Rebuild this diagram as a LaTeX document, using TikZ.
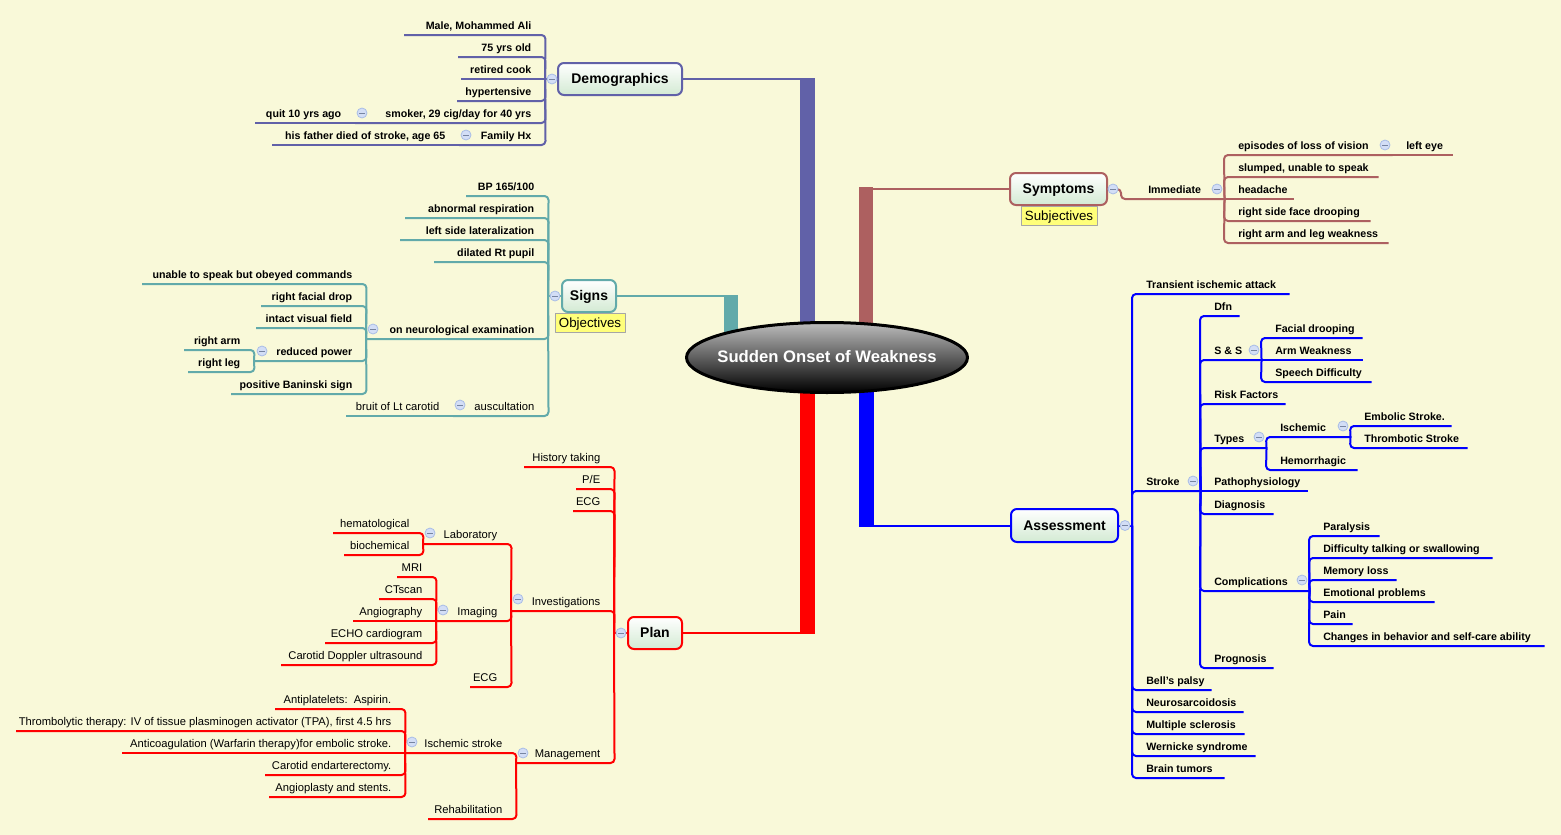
\documentclass[tikz,border=0pt]{standalone}
\usepackage{fontspec}
\setmainfont{Liberation Sans}
\usetikzlibrary{shapes.geometric}
\definecolor{bgc}{HTML}{F9F9D9}
\definecolor{demc}{HTML}{6161A8}
\definecolor{sigc}{HTML}{62AAAA}
\definecolor{symc}{HTML}{AD6060}
\definecolor{planc}{HTML}{FF0000}
\definecolor{assc}{HTML}{0000FF}
\definecolor{icf}{HTML}{D3DEF6}
\definecolor{icb}{HTML}{A9BDE6}
\definecolor{boxb}{HTML}{D3EAD3}
\definecolor{noteb}{HTML}{FFFF7A}
\definecolor{topg}{HTML}{BDBDBD}
\newcommand\MMnode[7]{%
  \pgfmathsetmacro\MMw{(#4-#3)*0.75}%
  \pgfmathsetmacro\MMt{(#4-#3-28)*0.75}%
  \node[#1, anchor=south west, minimum width=\MMw pt] (#2) at (#3,#5) {\makebox[\MMt pt][#6]{#7}};}
\newcommand\MMl[3]{\draw[ln,#1] (#2.south west) -- (#2.south east) -- (#3);}
\newcommand\MMr[3]{\draw[ln,#1] (#2.south east) -- (#2.south west) -- (#3);}
\newcommand\MMs[2]{\draw[ln,#1] (#2.south west) -- (#2.south east);}
\newcommand\MMk[3]{\node[mk] (#1) at (#2,#3) {};}
\begin{document}
\begin{tikzpicture}[x=0.75pt,y=-0.75pt, line join=round,
  ln/.style={line width=1.5pt, rounded corners=3pt},
  lf/.style={inner xsep=10.5pt, inner ysep=0pt, minimum height=15pt, text height=8.5pt, text depth=1.7pt, font=\fontsize{8}{9}\selectfont\bfseries},
  lfr/.style={lf, font=\fontsize{8.4}{9}\selectfont},
  topic/.style={draw, line width=1.5pt, rounded corners=4.5pt, top color=white, bottom color=boxb, font=\fontsize{10.5}{12}\selectfont\bfseries, inner sep=0pt, text height=9pt, text depth=2pt},
  note/.style={draw=gray!70, line width=0.6pt, fill=noteb, font=\fontsize{10}{12}\selectfont, inner sep=0pt, text height=9.4pt, text depth=2pt},
  mk/.style={circle, draw=icb, fill=icf, line width=0.6pt, minimum size=7.5pt, inner sep=0pt,
    path picture={\draw[icb!70!black, line width=0.6pt] ([xshift=-2.2pt]path picture bounding box.center) -- ([xshift=2.2pt]path picture bounding box.center);}},
  trunk/.style={line cap=butt, line width=11.25pt}]
\fill[bgc] (0,0) rectangle (1561,835);
\useasboundingbox (0,0) rectangle (1561,835);
% trunks
\coordinate (CC) at (827,357.5);
\coordinate (DB) at (807.5,78);
\coordinate (SB) at (866,187);
\coordinate (GB) at (731,295);
\coordinate (PB) at (807.5,634);
\coordinate (AB) at (866.5,527);
\draw[trunk, demc] (DB) -- (DB |- CC);
\draw[trunk, symc, line width=10.5pt] (SB) -- (SB |- CC);
\draw[trunk, sigc, line width=10.5pt] (GB) -- (GB |- CC);
\draw[trunk, planc] (PB |- CC) -- (PB);
\draw[trunk, assc] (AB |- CC) -- (AB);
% central topic
\node[ellipse, draw=black, line width=2.25pt, top color=topg, bottom color=black, minimum width=210.75pt, minimum height=52.5pt, inner sep=0pt, text=white, text height=9.8pt, text depth=2pt, font=\fontsize{12.5}{15}\selectfont\bfseries] (C) at (CC) {\makebox[0pt]{Sudden Onset of Weakness}};
% main topics
\node[topic, draw=demc, minimum width=93pt, minimum height=24pt] (Demo) at (620,79) {Demographics};
\node[topic, draw=sigc, minimum width=40.5pt, minimum height=24pt] (Signs) at (589,296) {Signs};
\node[note, minimum width=52.5pt, minimum height=14.25pt] (Obj) at (590,322.5) {Objectives};
\node[topic, draw=symc, minimum width=72.75pt, minimum height=24pt] (Symp) at (1058.5,189) {Symptoms};
\node[note, minimum width=57pt, minimum height=14.25pt] (Subj) at (1059,215.5) {Subjectives};
\node[topic, draw=assc, minimum width=80.25pt, minimum height=24.75pt] (Ass) at (1064.5,525.5) {Assessment};
\node[topic, draw=planc, minimum width=40.5pt, minimum height=24pt] (Plan) at (655,633) {Plan};
\draw[ln, demc] (Demo.east) -- (Demo.east -| DB);
\draw[ln, symc] (Symp.west) -- (Symp.west -| SB);
\draw[ln, sigc] (Signs.east) -- (Signs.east -| GB);
\draw[ln, planc] (Plan.east) -- (Plan.east -| PB);
\draw[ln, assc] (Ass.west) -- (Ass.west -| AB);
% ---------------- Demographics
\coordinate (DJ) at (545,79);
\MMnode{lf}{d1}{404}{545}{35}{r}{Male, Mohammed Ali}
\MMnode{lf}{d2}{458}{545}{57}{r}{75 yrs old}
\MMnode{lf}{d3}{461}{545}{79}{r}{retired cook}
\MMnode{lf}{d4}{457}{545}{101}{r}{hypertensive}
\MMnode{lf}{d5}{355}{545}{123}{r}{smoker, 29 cig/day for 40 yrs}
\MMnode{lf}{d5a}{255}{355}{123}{r}{quit 10 yrs ago}
\MMnode{lf}{d6}{459}{545}{145}{r}{Family Hx}
\MMnode{lf}{d6a}{272}{459}{145}{r}{his father died of stroke, age 65}
\draw[ln, demc] (Demo.west) -- (DJ);
\MMl{demc}{d1}{DJ}
\MMl{demc}{d2}{DJ}
\MMs{demc}{d3}
\MMl{demc}{d4}{DJ}
\MMl{demc}{d5}{DJ}
\MMl{demc}{d6}{DJ}
\MMs{demc}{d5a}
\MMs{demc}{d6a}
\MMk{kd}{552}{79}
\MMk{kd5}{362}{113}
\MMk{kd6}{466}{135}
% ---------------- Signs
\coordinate (GJ) at (548,296);
\MMnode{lf}{s1}{466}{548}{196}{r}{BP 165/100}
\MMnode{lf}{s2}{405}{548}{218}{r}{abnormal respiration}
\MMnode{lf}{s3}{400}{548}{240}{r}{left side lateralization}
\MMnode{lf}{s4}{434}{548}{262}{r}{dilated Rt pupil}
\MMnode{lf}{s5}{366}{548}{339}{r}{on neurological examination}
\MMnode{lf}{s5a}{142}{366}{284}{r}{unable to speak but obeyed commands}
\MMnode{lf}{s5b}{261}{366}{306}{r}{right facial drop}
\MMnode{lf}{s5c}{256}{366}{328}{r}{intact visual field}
\MMnode{lf}{s5d}{254}{366}{361}{r}{reduced power}
\MMnode{lf}{s5d1}{184}{254}{350}{r}{right arm}
\MMnode{lf}{s5d2}{188}{254}{372}{r}{right leg}
\MMnode{lf}{s5e}{231}{366}{394}{r}{positive Baninski sign}
\MMnode{lfr}{s6}{453}{548}{416}{r}{auscultation}
\MMnode{lfr}{s6a}{346}{453}{416}{r}{bruit of Lt carotid}
\draw[ln, sigc] (Signs.west) -- (GJ);
\MMl{sigc}{s1}{GJ}
\MMl{sigc}{s2}{GJ}
\MMl{sigc}{s3}{GJ}
\MMl{sigc}{s4}{GJ}
\MMl{sigc}{s5}{GJ}
\MMl{sigc}{s6}{GJ}
\MMl{sigc}{s5a}{s5.south west}
\MMl{sigc}{s5b}{s5.south west}
\MMl{sigc}{s5c}{s5.south west}
\MMl{sigc}{s5d}{s5.south west}
\MMl{sigc}{s5e}{s5.south west}
\MMl{sigc}{s5d1}{s5d.south west}
\MMl{sigc}{s5d2}{s5d.south west}
\MMs{sigc}{s6a}
\MMk{kg}{555}{296}
\MMk{kg5}{373}{329}
\MMk{kg5d}{262}{351}
\MMk{kg6}{460}{405}
% ---------------- Symptoms
\coordinate (SJ) at (1121,189);
\MMnode{lf}{y1}{1134}{1224}{199}{l}{Immediate}
\MMnode{lf}{y1a}{1224}{1392}{155}{l}{episodes of loss of vision}
\MMnode{lf}{y1a1}{1392}{1452}{155}{l}{left eye}
\MMnode{lf}{y1b}{1224}{1378}{177}{l}{slumped, unable to speak}
\MMnode{lf}{y1c}{1224}{1293}{199}{l}{headache}
\MMnode{lf}{y1d}{1224}{1370}{221}{l}{right side face drooping}
\MMnode{lf}{y1e}{1224}{1388}{243}{l}{right arm and leg weakness}
\draw[ln, symc] (Symp.east) -- (SJ) |- (y1.south west) -- (y1.south east);
\MMr{symc}{y1a}{y1.south east}
\MMr{symc}{y1b}{y1.south east}
\MMs{symc}{y1c}
\MMr{symc}{y1d}{y1.south east}
\MMr{symc}{y1e}{y1.south east}
\MMs{symc}{y1a1}
\MMk{ks}{1113}{189}
\MMk{ks1}{1217}{189}
\MMk{ks1a}{1385}{145}
% ---------------- Assessment
\coordinate (AJ) at (1132,525.5);
\MMnode{lf}{a1}{1132}{1289}{294}{l}{Transient ischemic attack}
\MMnode{lf}{a2}{1132}{1200}{491}{l}{Stroke}
\MMnode{lf}{b1}{1200}{1239}{316}{l}{Dfn}
\MMnode{lf}{b2}{1200}{1261}{360}{l}{S \& S}
\MMnode{lf}{c1}{1261}{1362}{338}{l}{Facial drooping}
\MMnode{lf}{c2}{1261}{1362}{360}{l}{Arm Weakness}
\MMnode{lf}{c3}{1261}{1371}{382}{l}{Speech Difficulty}
\MMnode{lf}{b3}{1200}{1285}{404}{l}{Risk Factors}
\MMnode{lf}{b4}{1200}{1266}{448}{l}{Types}
\MMnode{lf}{c4}{1266}{1350}{437}{l}{Ischemic}
\MMnode{lf}{e1}{1350}{1451}{426}{l}{Embolic Stroke.}
\MMnode{lf}{e2}{1350}{1467}{448}{l}{Thrombotic Stroke}
\MMnode{lf}{c5}{1266}{1357}{470}{l}{Hemorrhagic}
\MMnode{lf}{b5}{1200}{1307}{491}{l}{Pathophysiology}
\MMnode{lf}{b6}{1200}{1273}{514}{l}{Diagnosis}
\MMnode{lf}{b7}{1200}{1309}{591}{l}{Complications}
\MMnode{lf}{f1}{1309}{1379}{536}{l}{Paralysis}
\MMnode{lf}{f2}{1309}{1492}{558}{l}{Difficulty talking or swallowing}
\MMnode{lf}{f3}{1309}{1396}{580}{l}{Memory loss}
\MMnode{lf}{f4}{1309}{1434}{602}{l}{Emotional problems}
\MMnode{lf}{f5}{1309}{1352}{624}{l}{Pain}
\MMnode{lf}{f6}{1309}{1544}{646}{l}{Changes in behavior and self-care ability}
\MMnode{lf}{b8}{1200}{1273}{668}{l}{Prognosis}
\MMnode{lf}{a3}{1132}{1211}{690}{l}{Bell's palsy}
\MMnode{lf}{a4}{1132}{1243}{712}{l}{Neurosarcoidosis}
\MMnode{lf}{a5}{1132}{1244}{734}{l}{Multiple sclerosis}
\MMnode{lf}{a6}{1132}{1255}{756}{l}{Wernicke syndrome}
\MMnode{lf}{a7}{1132}{1224}{778}{l}{Brain tumors}
\draw[ln, assc] (Ass.east) -- (AJ);
\MMr{assc}{a1}{AJ}
\MMr{assc}{a2}{AJ}
\MMr{assc}{a3}{AJ}
\MMr{assc}{a4}{AJ}
\MMr{assc}{a5}{AJ}
\MMr{assc}{a6}{AJ}
\MMr{assc}{a7}{AJ}
\MMr{assc}{b1}{a2.south east}
\MMr{assc}{b2}{a2.south east}
\MMr{assc}{b3}{a2.south east}
\MMr{assc}{b4}{a2.south east}
\MMs{assc}{b5}
\MMr{assc}{b6}{a2.south east}
\MMr{assc}{b7}{a2.south east}
\MMr{assc}{b8}{a2.south east}
\MMr{assc}{c1}{b2.south east}
\MMs{assc}{c2}
\MMr{assc}{c3}{b2.south east}
\MMr{assc}{c4}{b4.south east}
\MMr{assc}{c5}{b4.south east}
\MMr{assc}{e1}{c4.south east}
\MMr{assc}{e2}{c4.south east}
\MMr{assc}{f1}{b7.south east}
\MMr{assc}{f2}{b7.south east}
\MMr{assc}{f3}{b7.south east}
\MMr{assc}{f4}{b7.south east}
\MMr{assc}{f5}{b7.south east}
\MMr{assc}{f6}{b7.south east}
\MMk{ka}{1125}{525.5}
\MMk{ka2}{1193}{481}
\MMk{kb2}{1254}{350}
\MMk{kb4}{1259}{437}
\MMk{kc4}{1343}{426}
\MMk{kb7}{1302}{580}
% ---------------- Plan
\coordinate (PJ) at (614,633);
\MMnode{lfr}{p1}{524}{614}{467}{r}{History taking}
\MMnode{lfr}{p2}{576}{614}{489}{r}{P/E}
\MMnode{lfr}{p3}{573}{614}{511}{r}{ECG}
\MMnode{lfr}{p4}{511}{614}{611}{r}{Investigations}
\MMnode{lfr}{q1}{423}{511}{544}{r}{Laboratory}
\MMnode{lfr}{r1}{333}{423}{533}{r}{hematological}
\MMnode{lfr}{r2}{344}{423}{555}{r}{biochemical}
\MMnode{lfr}{q2}{436}{511}{621}{r}{Imaging}
\MMnode{lfr}{r3}{397}{436}{577}{r}{MRI}
\MMnode{lfr}{r4}{379}{436}{599}{r}{CTscan}
\MMnode{lfr}{r5}{353}{436}{621}{r}{Angiography}
\MMnode{lfr}{r6}{325}{436}{643}{r}{ECHO cardiogram}
\MMnode{lfr}{r7}{281}{436}{665}{r}{Carotid Doppler ultrasound}
\MMnode{lfr}{q3}{470}{511}{687}{r}{ECG}
\MMnode{lfr}{p5}{516}{614}{763}{r}{Management}
\MMnode{lfr}{q4}{405}{516}{753}{r}{Ischemic stroke}
\MMnode{lfr}{t1}{275}{405}{709}{r}{Antiplatelets:\ \ Aspirin.}
\MMnode{lfr}{t2}{16}{405}{731}{r}{Thrombolytic therapy: IV of tissue plasminogen activator (TPA), first 4.5 hrs}
\MMnode{lfr}{t3}{122}{405}{753}{r}{Anticoagulation (Warfarin therapy)for embolic stroke.}
\MMnode{lfr}{t4}{265}{405}{775}{r}{Carotid endarterectomy.}
\MMnode{lfr}{t5}{269}{405}{797}{r}{Angioplasty and stents.}
\MMnode{lfr}{q5}{428}{516}{819}{r}{Rehabilitation}
\draw[ln, planc] (Plan.west) -- (PJ);
\MMl{planc}{p1}{PJ}
\MMl{planc}{p2}{PJ}
\MMl{planc}{p3}{PJ}
\MMl{planc}{p4}{PJ}
\MMl{planc}{p5}{PJ}
\MMl{planc}{q1}{p4.south west}
\MMl{planc}{q2}{p4.south west}
\MMl{planc}{q3}{p4.south west}
\MMl{planc}{r1}{q1.south west}
\MMl{planc}{r2}{q1.south west}
\MMl{planc}{r3}{q2.south west}
\MMl{planc}{r4}{q2.south west}
\MMs{planc}{r5}
\MMl{planc}{r6}{q2.south west}
\MMl{planc}{r7}{q2.south west}
\MMl{planc}{q4}{p5.south west}
\MMl{planc}{q5}{p5.south west}
\MMl{planc}{t1}{q4.south west}
\MMl{planc}{t2}{q4.south west}
\MMs{planc}{t3}
\MMl{planc}{t4}{q4.south west}
\MMl{planc}{t5}{q4.south west}
\MMk{kp}{621}{633}
\MMk{kp4}{518}{599}
\MMk{kq1}{430}{533}
\MMk{kq2}{443}{610}
\MMk{kp5}{523}{753}
\MMk{kq4}{412}{742}
\end{tikzpicture}
\end{document}
